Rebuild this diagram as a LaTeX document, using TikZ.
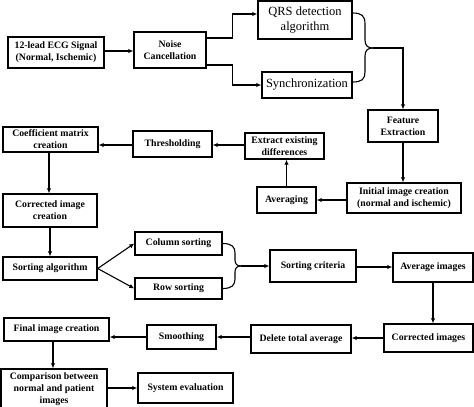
\documentclass[tikz,border=0pt]{standalone}
\usepackage{fontspec}
\setmainfont{Liberation Serif}
\usetikzlibrary{arrows.meta,calc}
\tikzset{
  box/.style={draw, line width=1.4pt, align=center, inner sep=1pt,
    font=\fontsize{9.8}{12}\selectfont\bfseries},
  pbox/.style={box, font=\fontsize{12.5}{14.5}\selectfont},
  conn/.style={line width=1.1pt},
  arr/.style={conn, -{Latex[length=5pt,width=4.5pt]}}
}
\begin{document}
\begin{tikzpicture}[x=1pt,y=-1pt]
\useasboundingbox (0,0) rectangle (474,407);
% nodes
\node[box, minimum width=96pt, minimum height=31pt] (ecg) at (56,52.5) {12-lead ECG Signal\\(Normal, Ischemic)};
\node[box, minimum width=72pt, minimum height=36pt] (noise) at (170,50) {Noise\\Cancellation};
\node[pbox, minimum width=94pt, minimum height=38pt] (qrs) at (305,20) {QRS detection\\algorithm};
\node[pbox, minimum width=90pt, minimum height=26pt] (sync) at (307,85) {Synchronization};
\node[box, minimum width=70pt, minimum height=32pt] (fe) at (403,126) {Feature\\Extraction};
\node[box, minimum width=79pt, minimum height=26pt] (extract) at (284.5,146) {Extract existing\\differences};
\node[box, minimum width=59pt, minimum height=26pt] (avg) at (286.5,200) {Averaging};
\node[box, minimum width=114pt, minimum height=30pt] (init) at (404,198) {Initial image creation\\(normal and ischemic)};
\node[box, minimum width=79pt, minimum height=26pt] (thresh) at (172.5,144) {Thresholding};
\node[box, minimum width=95pt, minimum height=25pt] (coef) at (50.5,139.5) {Coefficient matrix\\creation};
\node[box, minimum width=94pt, minimum height=33pt] (cic) at (50,210.5) {Corrected image\\creation};
\node[box, minimum width=94pt, minimum height=23pt] (sortalg) at (50,268.5) {Sorting algorithm};
\node[box, minimum width=87pt, minimum height=23pt] (col) at (178.5,243.5) {Column sorting};
\node[box, minimum width=87pt, minimum height=21pt] (row) at (178.5,288.5) {Row sorting};
\node[box, minimum width=86pt, minimum height=32pt] (sc) at (313,266) {Sorting criteria};
\node[box, minimum width=80pt, minimum height=29pt] (ai) at (433,267.5) {Average images};
\node[box, minimum width=89pt, minimum height=28pt] (ci) at (428.5,338) {Corrected images};
\node[box, minimum width=100pt, minimum height=28pt] (dta) at (301,339) {Delete total average};
\node[box, minimum width=69pt, minimum height=24pt] (smooth) at (181.5,337) {Smoothing};
\node[box, minimum width=105pt, minimum height=23pt] (final) at (56.5,329.5) {Final image creation};
\node[box, minimum width=106pt, minimum height=41pt] (comp) at (54,389.5) {Comparison between\\normal and patient\\images};
\node[box, minimum width=95pt, minimum height=30pt] (se) at (185.5,388) {System evaluation};
% brace tips
\coordinate (b1) at (373,48);
\coordinate (b2) at (241,266);
% connectors
\draw[arr] (ecg.east |- 0,51) -- (noise.west |- 0,51);
\draw[arr] ([yshift=12pt]noise.east) -- ++(26,0) |- ([yshift=6pt]qrs.west);
\draw[arr] ([yshift=-15pt]noise.east) -- ++(26,0) |- (sync.west);
\draw[conn] ([yshift=7pt]qrs.east) .. controls (362,13) and (365,16) .. (365,24) -- (365,40) .. controls (365,46) and (368,48) .. (b1);
\draw[conn] ([yshift=3pt]sync.east) .. controls (362,82) and (365,79) .. (365,72) -- (365,56) .. controls (365,50) and (368,48) .. (b1);
\draw[arr] (b1) -| (fe.north);
\draw[arr] (fe.south) -- (fe.south |- init.north);
\draw[arr] (avg.east -| init.west) -- (avg.east);
\draw[arr] (avg.north) -- (avg.north |- extract.south);
\draw[arr] (extract.west |- 0,145) -- (thresh.east |- 0,145);
\draw[arr] (thresh.west |- 0,145) -- (coef.east |- 0,145);
\draw[arr] (coef.south -| 49,0) -- (cic.north -| 49,0);
\draw[arr] (cic.south) -- (sortalg.north);
\draw[arr] (sortalg.east) -- (col.west);
\draw[arr] (sortalg.east) -- (row.west);
\draw[conn] (col.east) .. controls (232,243.5) and (235,247) .. (235,253) -- (235,260) .. controls (235,264) and (237,266) .. (b2);
\draw[conn] (row.east) .. controls (232,288.5) and (235,285) .. (235,279) -- (235,272) .. controls (235,268) and (237,266) .. (b2);
\draw[arr] (b2) -- (sc.west);
\draw[arr] (sc.east |- 0,267) -- (ai.west |- 0,267);
\draw[arr] (ai.south) -- (ci.north -| ai.south);
\draw[arr] (ci.west) -- (ci.west -| dta.east);
\draw[arr] (dta.west |- smooth.west) -- (smooth.east);
\draw[arr] (smooth.west) -- (smooth.west -| final.east);
\draw[arr] (final.south -| 53,0) -- (comp.north -| 53,0);
\draw[arr] (comp.east |- se.west) -- (se.west);
\end{tikzpicture}
\end{document}
